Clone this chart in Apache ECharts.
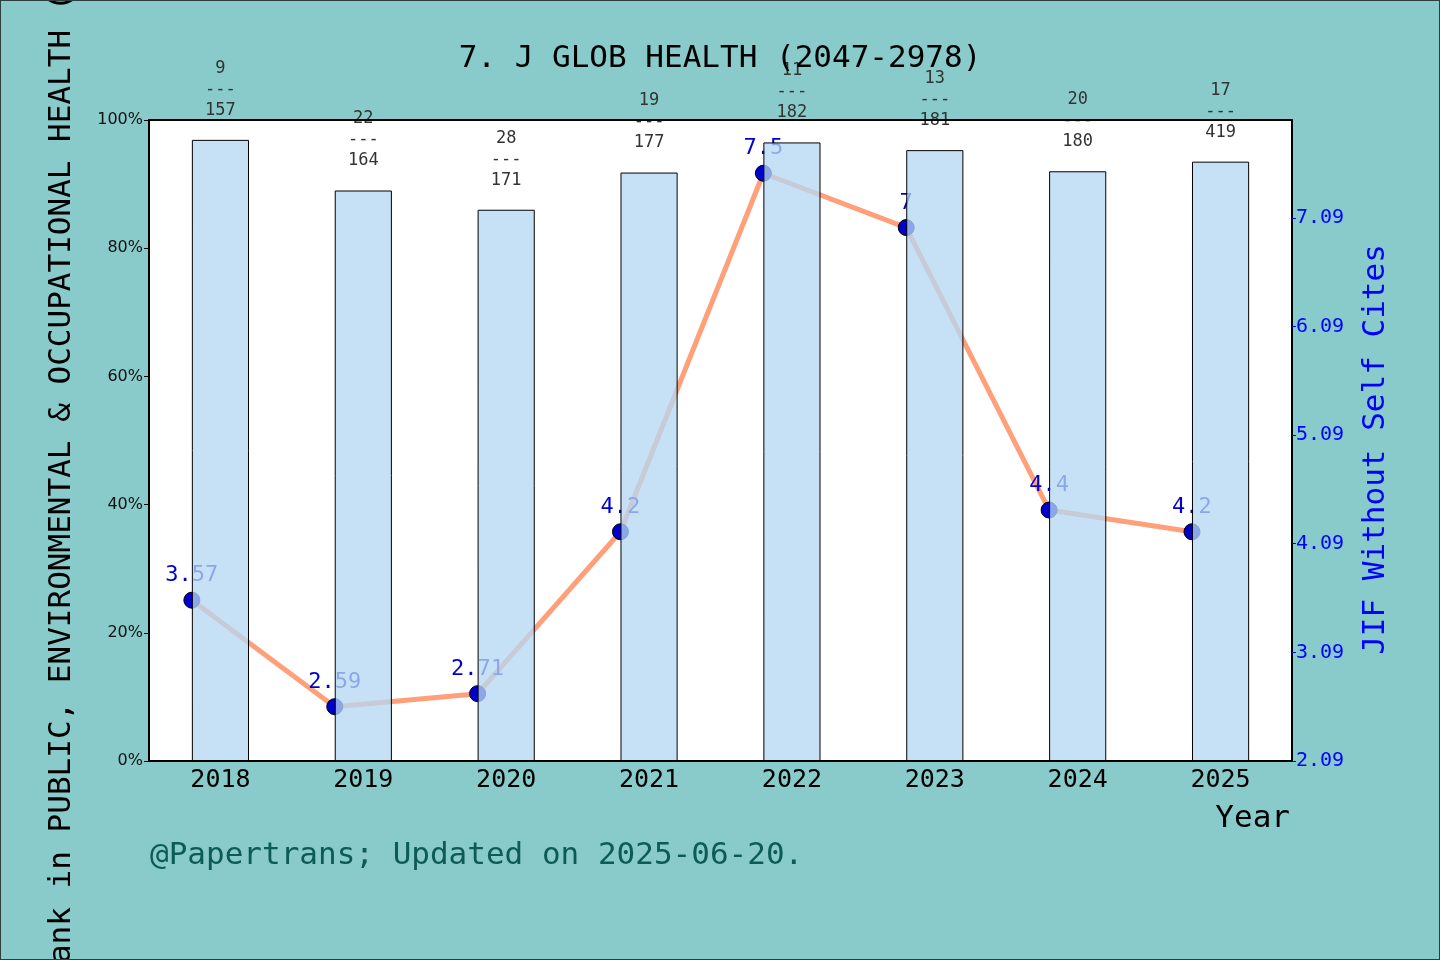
<!DOCTYPE html>
<html>
<head>
<meta charset="utf-8">
<script src="https://cdn.jsdelivr.net/npm/echarts@6/dist/echarts.min.js"></script>
<style>
    html, body { margin: 0; padding: 0; background: #88cbca; }
    #main { width: 1440px; height: 960px; }
    #edge { position: absolute; left: 0; top: 0; width: 1440px; height: 960px; box-sizing: border-box; border: 1px solid #2c3e3d; pointer-events: none; }
</style>
</head>
<body>
<div id="main"></div>
<div id="edge"></div>
<script>
    // chart data
    var years = ['2018', '2019', '2020', '2021', '2022', '2023', '2024', '2025'];
    var rankPct = [96.9, 89.0, 86.0, 91.8, 96.5, 95.3, 92.0, 93.5];
    var rankNum = [9, 22, 28, 19, 11, 13, 20, 17];
    var rankTotal = [157, 164, 171, 177, 182, 181, 180, 419];
    var jifNoSelf = [3.57, 2.59, 2.71, 4.2, 7.5, 7, 4.4, 4.2];

    var mono = '"DejaVu Sans Mono", "Liberation Mono", monospace';
    var barFrac = 0.4; // bar width as share of a category

    var linePts = [];
    for (var i = 0; i < jifNoSelf.length; i++) {
        // point sits on the left edge of its bar
        linePts.push([i - barFrac / 2, jifNoSelf[i]]);
    }

    var myChart = echarts.init(document.getElementById('main'), null, {renderer: 'canvas'});

    var option = {
        backgroundColor: '#88cbca',
        animation: false,
        title: {
            text: '7. J GLOB HEALTH (2047-2978)',
            left: 'center',
            top: 38,
            textStyle: {fontFamily: mono, fontSize: 31, fontWeight: 'normal', color: '#000'}
        },
        grid: {
            left: 149, right: 148, top: 120, bottom: 199,
            outerBoundsMode: 'none',
            containLabel: false,
            show: true, backgroundColor: '#fff', borderWidth: 0
        },
        xAxis: [{
            type: 'category',
            data: years,
            position: 'bottom',
            z: 10,
            axisLine: {onZero: false, lineStyle: {color: '#000', width: 2}},
            axisTick: {inside: true, length: 6, lineStyle: {color: '#000'}},
            axisLabel: {fontFamily: mono, fontSize: 25, color: '#000', margin: 7}
        }, {
            type: 'value',
            min: -0.5,
            max: years.length - 0.5,
            show: false,
            axisLine: {onZero: false}
        }, {
            type: 'category',
            data: years,
            position: 'top',
            z: 10,
            axisLine: {onZero: false, lineStyle: {color: '#000', width: 2}},
            axisTick: {show: false},
            axisLabel: {show: false}
        }],
        yAxis: [{
            type: 'value',
            position: 'left',
            min: 0,
            max: 100,
            interval: 20,
            z: 10,
            name: 'Rank in PUBLIC, ENVIRONMENTAL & OCCUPATIONAL HEALTH (SCIE)',
            nameLocation: 'middle',
            nameGap: 72,
            nameTextStyle: {fontFamily: mono, fontSize: 31, color: '#000'},
            axisLine: {show: true, onZero: false, lineStyle: {color: '#000', width: 2}},
            axisTick: {show: true, length: 5, lineStyle: {color: '#000'}},
            axisLabel: {formatter: '{value}%', fontFamily: '"DejaVu Sans", sans-serif', fontSize: 16, color: '#111', margin: 6},
            splitLine: {show: false}
        }, {
            type: 'value',
            position: 'right',
            min: 2.09,
            max: 7.99,
            interval: 1,
            z: 10,
            name: 'JIF Without Self Cites',
            nameLocation: 'middle',
            nameGap: 68,
            nameTextStyle: {fontFamily: mono, fontSize: 31, color: '#0000ff', padding: [0, 18, 0, 0]},
            axisLine: {show: true, onZero: false, lineStyle: {color: '#000', width: 2}},
            axisTick: {show: true, length: 4, lineStyle: {color: '#0000ff'}},
            axisLabel: {
                showMaxLabel: false,
                fontFamily: mono, fontSize: 20, color: '#0000ff', margin: 4,
                formatter: function (v) {
                    if (Math.abs(v - 7.99) < 1e-6) return '';
                    return v.toFixed(2);
                }
            },
            splitLine: {show: false}
        }],
        graphic: [{
            type: 'text',
            left: 150,
            top: 840,
            style: {text: '@Papertrans; Updated on 2025-06-20.', font: '31px ' + mono, fill: '#0d5b57'}
        }, {
            type: 'text',
            right: 150,
            top: 803,
            style: {text: 'Year', font: '31px ' + mono, fill: '#000'}
        }],
        series: [{
            type: 'line',
            xAxisIndex: 1,
            yAxisIndex: 1,
            z: 2,
            data: linePts,
            lineStyle: {color: '#ffa07a', width: 5},
            symbol: 'circle',
            symbolSize: 16,
            itemStyle: {color: '#0000cd', borderColor: '#000', borderWidth: 1},
            label: {
                show: true,
                position: 'top',
                distance: 5,
                fontFamily: mono,
                fontSize: 22,
                color: '#0000cd',
                formatter: function (p) { return p.value[1]; }
            }
        }, {
            type: 'bar',
            xAxisIndex: 0,
            yAxisIndex: 0,
            z: 3,
            barWidth: (barFrac * 100) + '%',
            data: rankPct,
            itemStyle: {color: 'rgba(181,216,243,0.77)', borderColor: '#000', borderWidth: 1},
            label: {
                show: true,
                position: 'top',
                distance: 19,
                fontFamily: mono,
                fontSize: 17,
                lineHeight: 21,
                color: '#333',
                formatter: function (p) {
                    return rankNum[p.dataIndex] + '\n---\n' + rankTotal[p.dataIndex];
                }
            }
        }]
    };

    myChart.setOption(option);
</script>
</body>
</html>
